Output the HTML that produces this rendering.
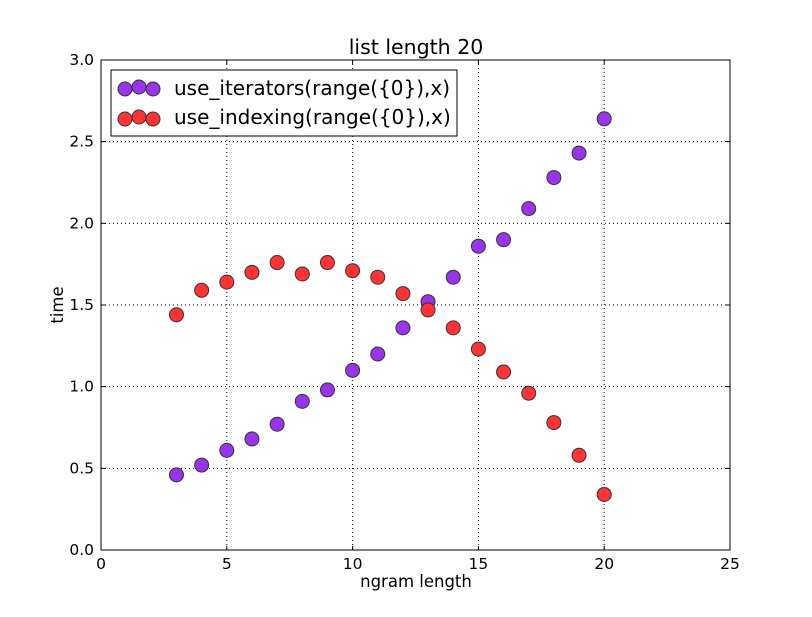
<!DOCTYPE html>
<html><head><meta charset="utf-8"><style>
body{margin:0;background:#fff;}
svg text{font-family:"DejaVu Sans","Liberation Sans",sans-serif;}
</style></head><body>
<svg id="chart" width="812" height="612" xmlns="http://www.w3.org/2000/svg">
<rect width="812" height="612" fill="#fff"/>
<g id="grid"></g>
<g id="ticks"></g>
<g id="marks"></g>
<rect x="101" y="60" width="629" height="490" fill="none" stroke="#000" stroke-width="1"/>
<text x="416" y="54" font-size="20.5" text-anchor="middle">list length 20</text>
<text x="416" y="587" font-size="16.5" text-anchor="middle">ngram length</text>
<text x="63" y="305" font-size="16.5" text-anchor="middle" transform="rotate(-90 63 305)">time</text>
<g>
<rect x="111" y="70" width="346" height="66" fill="#fff" stroke="#000" stroke-width="1"/>
<g>
<circle cx="125" cy="89" r="7" fill="#9933ee" stroke="#333"/>
<circle cx="139" cy="87" r="7" fill="#9933ee" stroke="#333"/>
<circle cx="153" cy="89" r="7" fill="#9933ee" stroke="#333"/>
<text x="174" y="95" font-size="20">use_iterators(range({0}),x)</text>
</g>
<g>
<circle cx="125" cy="119" r="7" fill="#ff3333" stroke="#333"/>
<circle cx="139" cy="117" r="7" fill="#ff3333" stroke="#333"/>
<circle cx="153" cy="119" r="7" fill="#ff3333" stroke="#333"/>
<text x="174" y="124" font-size="20">use_indexing(range({0}),x)</text>
</g>
</g>
</svg>
<script>
const xs = [3,4,5,6,7,8,9,10,11,12,13,14,15,16,17,18,19,20];
const iterators = [0.46,0.52,0.61,0.68,0.77,0.91,0.98,1.10,1.20,1.36,1.52,1.67,1.86,1.90,2.09,2.28,2.43,2.64];
const indexing = [1.44,1.59,1.64,1.70,1.76,1.69,1.76,1.71,1.67,1.57,1.47,1.36,1.23,1.09,0.96,0.78,0.58,0.34];
const xTicks = [0,5,10,15,20,25];
const xTickLabels = ["0","5","10","15","20","25"];
const yTicks = [0,0.5,1,1.5,2,2.5,3];
const yTickLabels = ["0.0","0.5","1.0","1.5","2.0","2.5","3.0"];

const NS="http://www.w3.org/2000/svg";
const X0=101,X1=730,Y0=550,Y1=60;
function sx(v){return X0+(v-0)/(25-0)*(X1-X0);}
function sy(v){return Y0-(v-0)/(3-0)*(Y0-Y1);}
function mk(tag,attrs,parent){const e=document.createElementNS(NS,tag);for(const k in attrs)e.setAttribute(k,attrs[k]);parent.appendChild(e);return e;}
const grid=document.getElementById('grid'),ticks=document.getElementById('ticks'),marks=document.getElementById('marks');
xTicks.forEach((t,i)=>{
  const x=sx(t);
  if(t>0&&t<25){const g=mk('line',{x1:x,x2:x,y1:Y1,y2:Y0,stroke:'#000','stroke-dasharray':'1,3','stroke-width':1},grid);
  
  }
  const a=mk('line',{x1:x,x2:x,y1:Y0,y2:Y0-4,stroke:'#000'},ticks);
  
  
  const b=mk('line',{x1:x,x2:x,y1:Y1,y2:Y1+4,stroke:'#000'},ticks);
  
  
  const tx=mk('text',{x:x,y:569,'font-size':15.5,'text-anchor':'middle'},ticks);
  tx.textContent=xTickLabels[i];
  
  
});
yTicks.forEach((t,i)=>{
  const y=sy(t);
  if(t>0&&t<3){const g=mk('line',{x1:X0,x2:X1,y1:y,y2:y,stroke:'#000','stroke-dasharray':'1,3','stroke-width':1},grid);
  
  }
  const a=mk('line',{x1:X0,x2:X0+4,y1:y,y2:y,stroke:'#000'},ticks);
  
  
  const b=mk('line',{x1:X1,x2:X1-4,y1:y,y2:y,stroke:'#000'},ticks);
  
  
  const tx=mk('text',{x:94,y:y+5,'font-size':15.5,'text-anchor':'end'},ticks);
  tx.textContent=yTickLabels[i];
  
  
});
function series(vals,color,name){
  vals.forEach((v,i)=>{
    const c=mk('circle',{cx:sx(xs[i]),cy:sy(v),r:7,fill:color,stroke:'#333','stroke-width':1},marks);
    
    
  });
}
series(iterators,'#9933ee','point-iterators');
series(indexing,'#ff3333','point-indexing');
</script>
</body></html>
